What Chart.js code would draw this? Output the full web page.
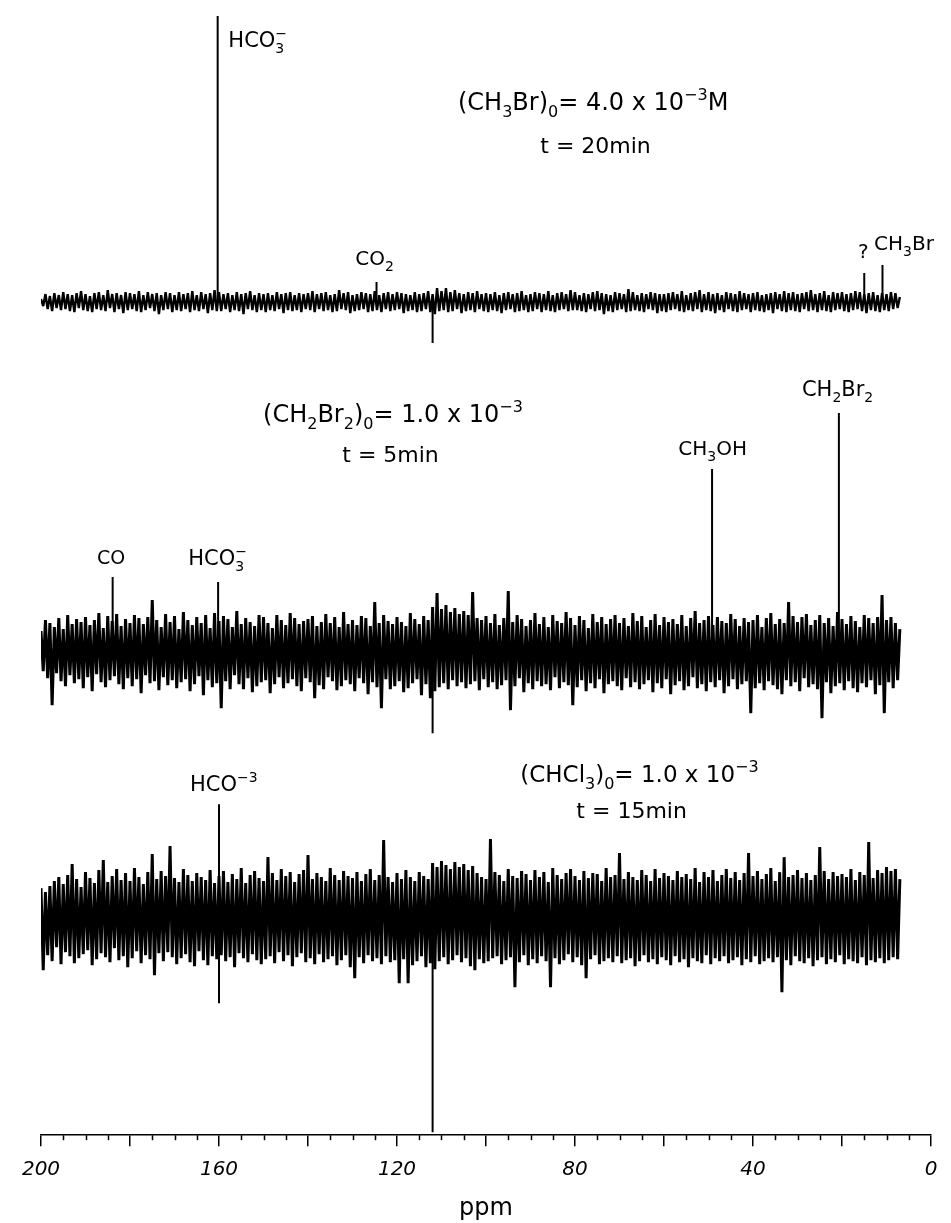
<!DOCTYPE html>
<html>
<head>
<meta charset="utf-8">
<script src="https://cdn.jsdelivr.net/npm/chart.js@4/dist/chart.umd.min.js"></script>
<style>
  html, body { margin: 0; padding: 0; background: #fff; }
  #wrap { position: relative; width: 951px; height: 1223px; }
</style>
</head>
<body>
<div id="wrap"><canvas id="nmrChart"></canvas></div>
<script>
// 13C spectra, three runs stacked; ppm axis runs 200 -> 0 (left to right)
const FONT = '"DejaVu Sans", "Liberation Sans", sans-serif';

// sampling of the noise traces (ppm)
const ppmStart = 200;
const ppmStep = 0.5;

// vertical stacking of the three runs (chart units)
const traceOffsets = [833, 482, 218];

// run 1: (CH3Br)0 = 4.0 x 10-3 M, t = 20 min
const noiseCH3Br = [
  3,-4,8,-7,6,-9,9,-6,7,-8,10,-7,8,-9,7,-10,9,-6,11,-8,
  8,-9,6,-10,9,-7,10,-8,7,-9,12,-6,8,-10,9,-7,7,-11,10,-8,
  9,-7,8,-9,11,-10,7,-8,10,-6,8,-9,9,-12,7,-8,10,-7,9,-10,
  7,-8,10,-9,8,-7,9,-10,11,-8,7,-9,10,-7,8,-11,9,-8,12,-9,
  10,-9,8,-7,9,-10,7,-8,10,-9,8,-12,9,-7,11,-8,7,-10,9,-8,
  8,-10,9,-8,7,-9,10,-7,8,-11,9,-8,10,-9,7,-8,9,-10,8,-7,
  9,-8,11,-10,8,-7,9,-9,10,-8,7,-10,8,-9,12,-7,9,-8,10,-11,
  7,-9,8,-8,10,-7,9,-10,8,-9,11,-8,7,-10,9,-7,10,-9,8,-8,
  10,-7,9,-11,8,-9,7,-8,10,-10,8,-9,9,-7,11,-10,8,-12,14,-9,
  11,-8,14,-10,10,-9,12,-7,9,-11,8,-9,10,-8,9,-10,11,-7,8,-9,
  9,-10,8,-8,10,-9,7,-11,9,-8,10,-7,8,-10,9,-9,11,-8,7,-10,
  8,-9,10,-7,9,-10,8,-8,11,-9,7,-10,9,-8,10,-7,8,-9,12,-8,
  10,-8,7,-9,9,-10,8,-7,10,-9,11,-8,9,-12,8,-9,7,-10,10,-8,
  9,-7,8,-10,13,-9,10,-8,7,-9,9,-10,8,-7,10,-8,9,-11,8,-9,
  8,-10,9,-8,10,-7,8,-9,11,-10,7,-8,9,-9,10,-7,12,-10,8,-8,
  10,-9,8,-11,9,-8,7,-10,10,-7,9,-9,8,-10,11,-8,9,-7,8,-10,
  9,-8,10,-9,7,-10,8,-8,9,-11,10,-7,8,-9,11,-10,9,-8,10,-9,
  8,-10,9,-7,10,-9,12,-8,8,-10,9,-8,11,-9,7,-10,10,-8,9,-7,
  10,-9,8,-10,9,-8,11,-7,10,-9,8,-11,9,-8,10,-9,7,-10,9,-8,
  8,-9,10,-7,9,-6,5
];
// [ppm, height]
const peaksCH3Br = [[160.3, 286], [124.6, 20], [112.0, -41], [15.0, 29], [10.9, 37]];

// run 2: (CH2Br2)0 = 1.0 x 10-3, t = 5 min
const noiseCH2Br2 = [
  22,-18,33,-25,30,-52,26,-20,35,-28,24,-33,38,-22,29,-30,34,-26,31,-35,
  36,-24,28,-38,33,-21,40,-29,25,-34,37,-27,32,-23,39,-31,27,-36,34,-25,
  30,-33,38,-26,35,-40,29,-22,36,-30,53,-28,33,-37,26,-24,39,-32,31,-27,
  37,-35,24,-29,41,-26,33,-38,28,-31,36,-23,30,-42,38,-27,25,-34,40,-30,
  32,-55,37,-28,34,-36,26,-22,42,-31,29,-36,35,-25,31,-39,27,-33,38,-29,
  36,-27,30,-40,25,-31,38,-24,33,-35,28,-30,40,-26,35,-33,29,-38,32,-25,
  34,-29,37,-45,27,-32,31,-36,39,-24,30,-28,36,-37,26,-33,41,-27,29,-31,
  33,-38,28,-25,37,-30,35,-41,27,-29,51,-34,30,-55,38,-26,32,-36,29,-33,
  36,-28,31,-39,27,-35,40,-30,34,-26,29,-42,37,-31,33,-45,46,-38,60,-34,
  44,-30,48,-36,41,-27,45,-33,39,-29,42,-35,38,-31,61,-28,35,-37,33,-26,
  37,-34,30,-29,39,-36,28,-32,35,-27,62,-57,31,-33,38,-25,34,-39,27,-30,
  33,-36,40,-28,29,-33,36,-31,26,-37,38,-24,32,-35,30,-29,41,-32,35,-52,
  28,-34,37,-27,33,-38,25,-30,39,-35,31,-26,36,-40,29,-31,34,-28,38,-33,
  30,-37,35,-25,27,-34,40,-29,32,-36,37,-31,26,-27,33,-39,39,-30,28,-35,
  36,-26,31,-41,34,-32,29,-28,38,-37,27,-33,35,-24,42,-35,30,-31,33,-38,
  37,-29,28,-34,36,-27,32,-40,30,-33,39,-26,34,-36,27,-31,35,-28,31,-60,
  33,-35,38,-30,26,-37,35,-28,40,-32,29,-36,34,-41,30,-27,51,-33,37,-29,
  31,-38,36,-25,39,-34,28,-31,33,-36,38,-65,30,-29,35,-40,27,-33,41,-30,
  34,-37,29,-28,37,-35,32,-39,26,-30,38,-34,35,-27,30,-41,36,-32,58,-60,
  33,-29,36,-35,30,-27,24
];
const peaksCH2Br2 = [[183.9, 76], [160.2, 71], [112.0, -80], [49.2, 184], [20.7, 240]];

// run 3: (CHCl3)0 = 1.0 x 10-3, t = 15 min
const noiseCHCl3 = [
  29,-53,25,-38,31,-44,36,-30,40,-47,33,-35,42,-39,53,-46,38,-41,30,-37,
  45,-33,39,-48,34,-42,47,-36,57,-40,35,-45,41,-31,48,-43,37,-39,44,-50,
  36,-41,49,-34,40,-46,33,-38,45,-42,63,-58,38,-36,46,-44,41,-35,71,-40,
  39,-47,35,-41,48,-37,42,-45,36,-49,44,-34,40,-43,37,-48,47,-39,34,-42,
  41,-38,46,-44,35,-40,43,-50,38,-36,49,-41,34,-45,42,-37,46,-43,39,-47,
  36,-42,60,-39,44,-46,37,-35,48,-44,41,-38,45,-49,35,-40,43,-36,47,-45,
  62,-41,38,-47,44,-37,40,-45,36,-42,49,-39,42,-48,37,-43,46,-38,41,-50,
  39,-61,45,-40,36,-46,43,-38,48,-44,37,-41,42,-47,77,-39,40,-45,35,-43,
  44,-66,38,-42,47,-66,40,-48,36,-44,45,-39,41,-50,38,-46,54,-52,50,-44,
  56,-40,52,-47,48,-43,55,-38,50,-45,53,-41,47,-49,51,-53,44,-42,40,-46,
  38,-44,78,-41,45,-39,42,-47,36,-43,48,-40,41,-70,39,-45,46,-38,43,-48,
  37,-42,47,-46,40,-39,45,-44,35,-70,49,-41,42,-47,38,-43,44,-37,48,-45,
  41,-40,37,-48,46,-61,39,-42,44,-38,43,-47,36,-44,49,-41,40,-45,42,-39,
  64,-46,38,-43,45,-41,40,-49,37,-44,47,-38,42,-45,36,-42,48,-47,39,-40,
  44,-43,41,-48,37,-39,46,-45,40,-42,43,-50,38,-41,49,-44,35,-46,45,-38,
  40,-47,47,-41,36,-44,42,-39,48,-46,39,-43,45,-40,37,-48,44,-42,64,-45,
  41,-39,46,-47,38,-44,43,-41,49,-45,36,-40,45,-75,60,-43,40,-48,42,-39,
  47,-44,39,-46,44,-41,37,-49,42,-43,70,-40,46,-47,38,-42,45,-45,41,-38,
  43,-47,40,-42,48,-44,37,-46,45,-40,42,-48,75,-43,39,-45,47,-41,44,-46,
  50,-43,46,-40,48,-42,38
];
const peaksCHCl3 = [[160.0, 113], [160.0, -86], [112.0, -215]];

// axis
const xMin = 0, xMax = 200;
const majorStep = 20, labelStep = 40, minorStep = 5;

// text on the figure: _{..} subscript, ^{..} superscript; x in ppm, y in chart units
const annotations = [
  { text: 'HCO_{3}^{−}', ppm: 157.9, y: 1088, size: 21 },
  { text: '(CH_{3}Br)_{0}= 4.0 x 10^{−3}M', ppm: 106.3, y: 1025, size: 24 },
  { text: 't = 20min', ppm: 87.8, y: 982, size: 22 },
  { text: 'CO_{2}', ppm: 129.4, y: 870, size: 20 },
  { text: '?', ppm: 16.4, y: 877, size: 20 },
  { text: 'CH_{3}Br', ppm: 12.8, y: 885, size: 20 },
  { text: '(CH_{2}Br_{2})_{0}= 1.0 x 10^{−3}', ppm: 150.1, y: 713, size: 24 },
  { text: 't = 5min', ppm: 132.3, y: 673, size: 22 },
  { text: 'CO', ppm: 187.4, y: 571, size: 19 },
  { text: 'HCO_{3}^{−}', ppm: 166.9, y: 570, size: 21 },
  { text: 'CH_{3}OH', ppm: 56.8, y: 680, size: 20 },
  { text: 'CH_{2}Br_{2}', ppm: 29.0, y: 739, size: 21 },
  { text: 'HCO^{−3}', ppm: 166.5, y: 344, size: 21 },
  { text: '(CHCl_{3})_{0}= 1.0 x 10^{−3}', ppm: 92.3, y: 353, size: 23 },
  { text: 't = 15min', ppm: 79.7, y: 317, size: 22 }
];

function traceData(noise, offset) {
  return noise.map((v, i) => ({ x: ppmStart - i * ppmStep, y: offset + v }));
}

function peakData(peaks, offset) {
  const out = [];
  peaks.forEach(([p, h]) => {
    out.push({ x: p, y: offset }, { x: p, y: offset + h }, { x: p, y: null });
  });
  return out;
}

function drawRich(ctx, str, x, y, size) {
  const re = /([_^])\{([^}]*)\}|([^_^]+)/g;
  const small = Math.round(size * 0.68);
  let m, cx = x, lastSub = null;
  while ((m = re.exec(str))) {
    if (m[3]) {
      ctx.font = size + 'px ' + FONT;
      ctx.fillText(m[3], cx, y);
      cx += ctx.measureText(m[3]).width;
      lastSub = null;
    } else {
      ctx.font = small + 'px ' + FONT;
      const w = ctx.measureText(m[2]).width;
      if (m[1] === '_') {
        ctx.fillText(m[2], cx, y + size * 0.3);
        lastSub = { x: cx, w: w };
        cx += w;
      } else {
        // superscript right after a subscript sits stacked above it
        const sx = lastSub ? lastSub.x : cx;
        ctx.fillText(m[2], sx, y - size * 0.42);
        cx = lastSub ? Math.max(cx, sx + w) : cx + w;
        lastSub = null;
      }
    }
  }
}

const figureText = {
  id: 'figureText',
  afterDraw(chart) {
    const { ctx, scales: { x, y } } = chart;
    ctx.save();
    ctx.fillStyle = '#000';
    ctx.textBaseline = 'alphabetic';
    ctx.textAlign = 'left';
    annotations.forEach(a => drawRich(ctx, a.text, x.getPixelForValue(a.ppm), y.getPixelForValue(a.y), a.size));
    // short minor ticks every 5 ppm
    ctx.strokeStyle = '#000';
    ctx.lineWidth = 1.5;
    const base = chart.chartArea.bottom;
    for (let v = xMin; v <= xMax; v += minorStep) {
      if (v % majorStep === 0) continue;
      const px = Math.round(x.getPixelForValue(v)) + 0.5;
      ctx.beginPath();
      ctx.moveTo(px, base);
      ctx.lineTo(px, base + 5);
      ctx.stroke();
    }
    ctx.restore();
  }
};

const lineStyle = {
  borderColor: '#000', backgroundColor: '#000', pointRadius: 0, tension: 0,
  fill: false, spanGaps: false, borderJoinStyle: 'bevel'
};

// noise traces are filled to their own baseline so the band reads solid
function noiseSet(label, noise, offset, width) {
  return { ...lineStyle, label, data: traceData(noise, offset), borderWidth: width, fill: { value: offset } };
}

new Chart(document.getElementById('nmrChart'), {
  type: 'line',
  data: {
    datasets: [
      noiseSet('CH3Br', noiseCH3Br, traceOffsets[0], 2.4),
      { ...lineStyle, label: 'CH3Br peaks', data: peakData(peaksCH3Br, traceOffsets[0]), borderWidth: 2 },
      noiseSet('CH2Br2', noiseCH2Br2, traceOffsets[1], 3),
      { ...lineStyle, label: 'CH2Br2 peaks', data: peakData(peaksCH2Br2, traceOffsets[1]), borderWidth: 2 },
      noiseSet('CHCl3', noiseCHCl3, traceOffsets[2], 3),
      { ...lineStyle, label: 'CHCl3 peaks', data: peakData(peaksCHCl3, traceOffsets[2]), borderWidth: 2 }
    ]
  },
  options: {
    responsive: true,
    maintainAspectRatio: false,
    animation: false,
    devicePixelRatio: 1,
    layout: { padding: { left: 41, right: 20, top: 0, bottom: 0 } },
    plugins: { legend: { display: false }, tooltip: { enabled: false }, filler: { propagate: false } },
    scales: {
      x: {
        type: 'linear',
        min: xMin,
        max: xMax,
        reverse: true,
        border: { display: true, color: '#000', width: 1.5 },
        grid: { drawOnChartArea: false, drawTicks: true, tickLength: 11, color: '#000', lineWidth: 1.5 },
        ticks: {
          stepSize: majorStep,
          autoSkip: false,
          maxRotation: 0,
          padding: 12,
          color: '#000',
          font: { family: FONT, size: 20, style: 'italic' },
          callback: v => (v % labelStep === 0 ? String(v) : '')
        },
        title: {
          display: true,
          text: 'ppm',
          color: '#000',
          font: { family: FONT, size: 24 },
          padding: { top: 0, bottom: 0 }
        }
      },
      y: { display: false, min: 0, max: 1135 }
    }
  },
  plugins: [figureText]
});
</script>
</body>
</html>
